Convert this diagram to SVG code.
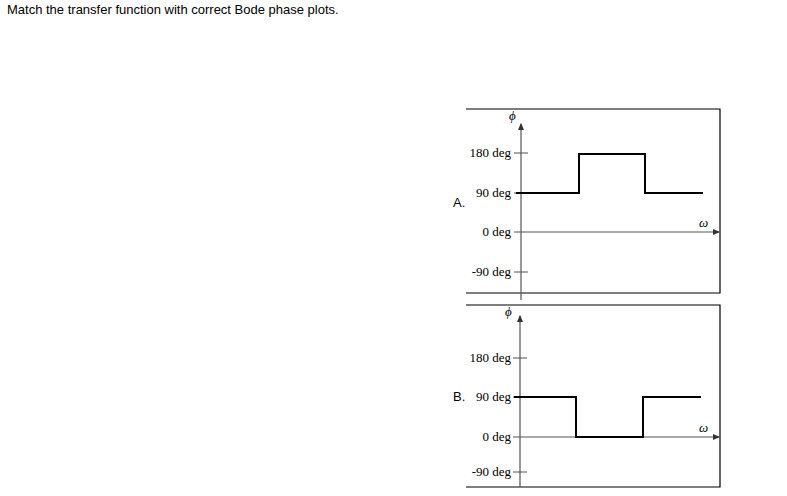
<svg xmlns="http://www.w3.org/2000/svg" width="787" height="496" viewBox="0 0 787 496">
<style>
.t{font-family:"Liberation Sans",Arial,sans-serif;font-size:13px;fill:#000}
.s{font-family:"Liberation Serif","Times New Roman",serif;font-size:13px;fill:#000}
.f{fill:none;stroke:#000;stroke-width:1.2}
.ax{fill:none;stroke:#555;stroke-width:1.2}
.p{fill:none;stroke:#000;stroke-width:2}
</style>
<defs><marker id="ar" markerWidth="6" markerHeight="6" refX="5" refY="3" orient="auto"><path d="M0,0.5 L6,3 L0,5.5z" fill="#333"/></marker></defs>
<rect width="787" height="496" fill="#fff"/>
<text class="t" x="7" y="14">Match the transfer function with correct Bode phase plots.</text>
<g id="plotA">
<path class="f" d="M466,109 H720 V293 H466"/>
<text class="t" x="453" y="207">A.</text>
<g class="s" text-anchor="end"><text x="511" y="157">180 deg</text><text x="511" y="197">90 deg</text><text x="511" y="236">0 deg</text><text x="511" y="276">-90 deg</text></g>
<text class="s" x="509" y="120" font-style="italic">ϕ</text>
<text class="s" x="699" y="227" font-style="italic">ω</text>
</g>
<g id="plotB">
<path class="f" d="M466,305 H720 V487 H466"/>
<text class="t" x="453" y="401">B.</text>
<g class="s" text-anchor="end"><text x="511" y="362">180 deg</text><text x="511" y="401">90 deg</text><text x="511" y="441">0 deg</text><text x="511" y="476">-90 deg</text></g>
<text class="s" x="505" y="316" font-style="italic">ϕ</text>
<text class="s" x="699" y="432" font-style="italic">ω</text>
</g>
<g id="connectors">
<path class="ax" d="M521,300 V124" marker-end="url(#ar)"/>
<path class="ax" d="M514,232 H719" marker-end="url(#ar)"/>
<path class="ax" d="M514,153 H528 M514,193 H528 M514,272 H528"/>
<path class="p" d="M516,193 H579 V154 H645 V193 H703"/>
<path class="ax" d="M520,487 V316" marker-end="url(#ar)"/>
<path class="ax" d="M513,437 H719" marker-end="url(#ar)"/>
<path class="ax" d="M513,358 H527 M513,397 H527 M513,472 H527"/>
<path class="p" d="M514,397 H576 V437 H643 V397 H701"/>
</g>
</svg>
